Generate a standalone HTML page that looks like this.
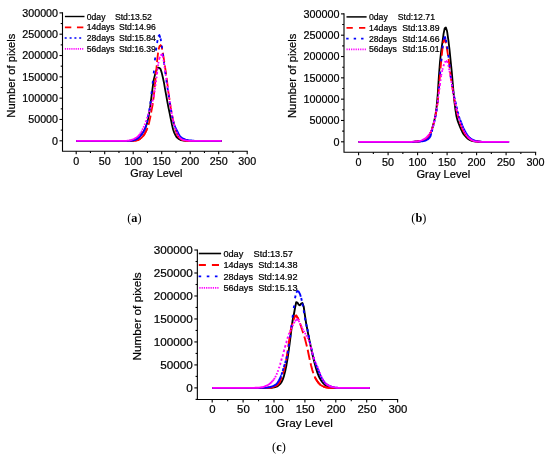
<!DOCTYPE html>
<html lang="en">
<head>
<meta charset="utf-8">
<title>Gray level histograms</title>
<style>
html,body{margin:0;padding:0;background:#fff;}
body{width:550px;height:460px;overflow:hidden;}
svg{display:block;}
.c text{stroke:#000;stroke-width:.22px;}
</style>
</head>
<body>
<svg width="550" height="460" viewBox="0 0 550 460">
<rect width="550" height="460" fill="#fff"/>
<g class="c" font-family='"Liberation Sans", Arial, sans-serif' fill="#000">
<path d="M76.2,140.8L77.3,140.8L78.5,140.8L79.6,140.8L80.8,140.8L81.9,140.8L83.0,140.8L84.2,140.8L85.3,140.8L86.5,140.8L87.6,140.8L88.7,140.8L89.9,140.8L91.0,140.8L92.2,140.8L93.3,140.8L94.4,140.8L95.6,140.8L96.7,140.8L97.9,140.8L99.0,140.8L100.1,140.8L101.3,140.8L102.4,140.8L103.6,140.8L104.7,140.8L105.8,140.8L107.0,140.8L108.1,140.8L109.3,140.8L110.4,140.8L111.5,140.8L112.7,140.8L113.8,140.8L115.0,140.8L116.1,140.8L117.2,140.8L118.4,140.8L119.5,140.8L120.7,140.8L121.8,140.8L122.9,140.8L124.1,140.8L125.2,140.8L126.4,140.8L127.5,140.8L128.6,140.8L129.8,140.7L130.9,140.6L132.1,140.5L133.2,140.4L134.3,140.0L135.5,139.4L136.6,138.7L137.8,138.0L138.9,137.0L140.0,135.9L141.2,134.6L142.3,133.1L143.5,131.4L144.6,129.4L145.7,126.9L146.9,123.8L148.0,119.2L149.2,113.2L150.3,105.8L151.4,97.0L152.6,87.9L153.7,79.9L154.9,75.1L156.0,71.4L157.1,68.8L158.3,67.6L159.4,67.8L160.6,69.2L161.7,72.6L162.8,77.3L164.0,82.9L165.1,89.3L166.3,95.9L167.4,102.1L168.5,107.9L169.7,113.6L170.8,119.1L172.0,124.9L173.1,129.5L174.2,132.6L175.4,135.1L176.5,137.0L177.7,138.1L178.8,138.9L179.9,139.6L181.1,140.1L182.2,140.3L183.4,140.5L184.5,140.7L185.6,140.8L186.8,140.8L187.9,140.8L189.1,140.8L190.2,140.8L191.3,140.8L192.5,140.8L193.6,140.8L194.8,140.8L195.9,140.8L197.0,140.8L198.2,140.8L199.3,140.8L200.5,140.8L201.6,140.8L202.7,140.8L203.9,140.8L205.0,140.8L206.2,140.8L207.3,140.8L208.4,140.8L209.6,140.8L210.7,140.8L211.9,140.8L213.0,140.8L214.1,140.8L215.3,140.8L216.4,140.8L217.6,140.8L218.7,140.8L219.8,140.8L221.0,140.8L221.6,140.8" fill="none" stroke="#000000" stroke-width="1.8" stroke-linejoin="round"/>
<path d="M76.2,140.8L77.3,140.8L78.5,140.8L79.6,140.8L80.8,140.8L81.9,140.8L83.0,140.8L84.2,140.8L85.3,140.8L86.5,140.8L87.6,140.8L88.7,140.8L89.9,140.8L91.0,140.8L92.2,140.8L93.3,140.8L94.4,140.8L95.6,140.8L96.7,140.8L97.9,140.8L99.0,140.8L100.1,140.8L101.3,140.8L102.4,140.8L103.6,140.8L104.7,140.8L105.8,140.8L107.0,140.8L108.1,140.8L109.3,140.8L110.4,140.8L111.5,140.8L112.7,140.8L113.8,140.8L115.0,140.8L116.1,140.8L117.2,140.8L118.4,140.8L119.5,140.8L120.7,140.8L121.8,140.8L122.9,140.8L124.1,140.8L125.2,140.8L126.4,140.8L127.5,140.8L128.6,140.8L129.8,140.8L130.9,140.8L132.1,140.8L133.2,140.8L134.3,140.7L135.5,140.6L136.6,140.3L137.8,140.1L138.9,139.6L140.0,138.9L141.2,138.0L142.3,136.9L143.5,135.6L144.6,133.9L145.7,131.8L146.9,129.4L148.0,126.2L149.2,122.4L150.3,117.4L151.4,111.1L152.6,105.0L153.7,96.9L154.9,84.9L156.0,72.9L157.1,61.1L158.3,50.8L159.4,46.5L160.6,45.3L161.7,46.7L162.8,52.6L164.0,59.8L165.1,67.5L166.3,75.2L167.4,83.8L168.5,92.8L169.7,100.7L170.8,108.0L172.0,114.4L173.1,120.2L174.2,124.9L175.4,129.1L176.5,132.8L177.7,135.7L178.8,137.3L179.9,138.4L181.1,139.2L182.2,139.8L183.4,140.1L184.5,140.3L185.6,140.5L186.8,140.7L187.9,140.8L189.1,140.8L190.2,140.8L191.3,140.8L192.5,140.8L193.6,140.8L194.8,140.8L195.9,140.8L197.0,140.8L198.2,140.8L199.3,140.8L200.5,140.8L201.6,140.8L202.7,140.8L203.9,140.8L205.0,140.8L206.2,140.8L207.3,140.8L208.4,140.8L209.6,140.8L210.7,140.8L211.9,140.8L213.0,140.8L214.1,140.8L215.3,140.8L216.4,140.8L217.6,140.8L218.7,140.8L219.8,140.8L221.0,140.8L221.6,140.8" fill="none" stroke="#ff0000" stroke-width="1.8" stroke-linejoin="round" stroke-dasharray="9.5 3.2" stroke-dashoffset="8.03"/>
<path d="M76.2,140.8L77.3,140.8L78.5,140.8L79.6,140.8L80.8,140.8L81.9,140.8L83.0,140.8L84.2,140.8L85.3,140.8L86.5,140.8L87.6,140.8L88.7,140.8L89.9,140.8L91.0,140.8L92.2,140.8L93.3,140.8L94.4,140.8L95.6,140.8L96.7,140.8L97.9,140.8L99.0,140.8L100.1,140.8L101.3,140.8L102.4,140.8L103.6,140.8L104.7,140.8L105.8,140.8L107.0,140.8L108.1,140.8L109.3,140.8L110.4,140.8L111.5,140.8L112.7,140.8L113.8,140.8L115.0,140.8L116.1,140.8L117.2,140.8L118.4,140.8L119.5,140.8L120.7,140.8L121.8,140.8L122.9,140.8L124.1,140.8L125.2,140.8L126.4,140.8L127.5,140.8L128.6,140.8L129.8,140.8L130.9,140.8L132.1,140.8L133.2,140.8L134.3,140.7L135.5,140.6L136.6,140.3L137.8,140.1L138.9,139.6L140.0,138.9L141.2,138.0L142.3,136.9L143.5,135.6L144.6,133.9L145.7,131.8L146.9,129.4M159.4,46.5L160.6,45.3L161.7,46.7M177.7,135.7L178.8,137.3L179.9,138.4L181.1,139.2L182.2,139.8L183.4,140.1L184.5,140.3L185.6,140.5L186.8,140.7L187.9,140.8L189.1,140.8L190.2,140.8L191.3,140.8L192.5,140.8L193.6,140.8L194.8,140.8L195.9,140.8L197.0,140.8L198.2,140.8L199.3,140.8L200.5,140.8L201.6,140.8L202.7,140.8L203.9,140.8L205.0,140.8L206.2,140.8L207.3,140.8L208.4,140.8L209.6,140.8L210.7,140.8L211.9,140.8L213.0,140.8L214.1,140.8L215.3,140.8L216.4,140.8L217.6,140.8L218.7,140.8L219.8,140.8L221.0,140.8L221.6,140.8" fill="none" stroke="#ff0000" stroke-width="1.8" stroke-linejoin="round"/>
<path d="M76.2,140.8L77.3,140.8L78.5,140.8L79.6,140.8L80.8,140.8L81.9,140.8L83.0,140.8L84.2,140.8L85.3,140.8L86.5,140.8L87.6,140.8L88.7,140.8L89.9,140.8L91.0,140.8L92.2,140.8L93.3,140.8L94.4,140.8L95.6,140.8L96.7,140.8L97.9,140.8L99.0,140.8L100.1,140.8L101.3,140.8L102.4,140.8L103.6,140.8L104.7,140.8L105.8,140.8L107.0,140.8L108.1,140.8L109.3,140.8L110.4,140.8L111.5,140.8L112.7,140.8L113.8,140.8L115.0,140.8L116.1,140.8L117.2,140.8L118.4,140.8L119.5,140.8L120.7,140.8L121.8,140.8L122.9,140.8L124.1,140.8L125.2,140.8L126.4,140.8L127.5,140.8L128.6,140.8L129.8,140.8L130.9,140.8L132.1,140.6L133.2,140.5L134.3,140.2L135.5,139.8L136.6,139.2L137.8,138.5L138.9,137.6L140.0,136.5L141.2,135.1L142.3,133.6L143.5,131.8L144.6,129.7L145.7,127.1M145.7,127.0L146.5,124.3M146.9,122.9L147.4,120.1M148.0,116.9L148.5,114.1M149.2,110.8L149.6,108.1M150.3,103.8L150.6,101.0M151.4,94.0L151.7,91.3M152.6,83.7L152.9,80.9M153.7,73.4L154.0,70.6M154.9,60.3L155.2,57.5M156.0,50.5L156.4,47.7M157.1,43.0L157.6,40.2M158.3,36.6L159.4,35.0L160.3,37.7M160.6,38.5L161.0,41.2M161.7,45.6L162.1,48.3M162.8,53.6L163.2,56.4M164.0,62.0L164.3,64.8M165.1,71.2L165.5,74.0M166.3,80.2L166.7,82.9M167.4,87.5L167.9,90.2M168.5,94.4L169.0,97.2M169.7,101.9L170.1,104.6M170.8,109.2L171.3,112.0M172.0,115.3L172.5,118.1M173.1,120.7L173.9,123.4M174.2,124.7L175.3,127.3M175.4,127.5L176.5,129.7L177.7,132.0L178.8,134.2L179.9,136.0L181.1,137.3L182.2,138.1L183.4,138.7L184.5,139.1L185.6,139.5L186.8,139.8L187.9,140.0L189.1,140.3L190.2,140.4L191.3,140.5L192.5,140.6L193.6,140.7L194.8,140.8L195.9,140.8L197.0,140.8L198.2,140.8L199.3,140.8L200.5,140.8L201.6,140.8L202.7,140.8L203.9,140.8L205.0,140.8L206.2,140.8L207.3,140.8L208.4,140.8L209.6,140.8L210.7,140.8L211.9,140.8L213.0,140.8L214.1,140.8L215.3,140.8L216.4,140.8L217.6,140.8L218.7,140.8L219.8,140.8L221.0,140.8L221.6,140.8" fill="none" stroke="#0000ff" stroke-width="1.8" stroke-linejoin="round"/>
<path d="M76.2,140.8L77.3,140.8L78.5,140.8L79.6,140.8L80.8,140.8L81.9,140.8L83.0,140.8L84.2,140.8L85.3,140.8L86.5,140.8L87.6,140.8L88.7,140.8L89.9,140.8L91.0,140.8L92.2,140.8L93.3,140.8L94.4,140.8L95.6,140.8L96.7,140.8L97.9,140.8L99.0,140.8L100.1,140.8L101.3,140.8L102.4,140.8L103.6,140.8L104.7,140.8L105.8,140.8L107.0,140.8L108.1,140.8L109.3,140.8L110.4,140.8L111.5,140.8L112.7,140.8L113.8,140.8L115.0,140.8L116.1,140.8L117.2,140.8L118.4,140.8L119.5,140.8L120.7,140.8L121.8,140.8L122.9,140.8L124.1,140.8L125.2,140.8L126.4,140.8L127.5,140.7L128.6,140.6L129.8,140.5L130.9,140.2L132.1,139.7L133.2,139.2L134.3,138.7L135.5,138.1L136.6,137.4L137.8,136.5L138.9,135.4M138.9,135.4L139.8,134.1M140.0,133.8L140.9,132.4M141.2,132.0L142.0,130.6M142.3,129.9L143.0,128.5M143.5,127.7L144.1,126.2M144.6,125.0L145.2,123.5M145.7,122.0L146.2,120.5M146.9,118.5L147.4,117.0M148.0,115.1L148.6,113.6M149.2,112.1L149.7,110.5M150.3,108.8L150.8,107.3M151.4,105.3L151.4,105.1L151.9,103.6M152.4,101.5L152.6,100.9L152.9,99.4M153.4,97.3L153.7,95.9L154.0,94.4M154.4,92.3L154.6,90.7M154.9,89.5L155.1,87.9M155.4,85.8L155.6,84.2M156.0,82.2L156.0,81.9L156.2,80.3M156.5,78.2L156.7,76.6M157.0,74.5L157.1,73.3L157.3,71.7M157.6,69.7L157.7,68.1M158.0,66.0L158.2,64.4M158.3,63.5L158.6,61.9M159.1,59.8L159.4,58.3M159.4,58.3L160.0,56.8M160.6,55.6L161.7,54.5L162.6,55.8M162.8,56.1L163.1,57.7M163.5,59.7L163.7,61.3M164.0,62.9L164.2,64.5M164.5,66.5L164.7,68.1M165.0,70.2L165.1,70.7L165.3,72.3M165.6,74.4L165.9,75.9M166.2,78.0L166.3,78.7L166.5,80.2M166.8,82.3L167.0,83.9M167.4,86.0L167.4,86.3L167.6,87.8M168.0,89.9L168.2,91.5M168.5,93.6L168.5,93.7L168.8,95.3M169.1,97.4L169.3,99.0M169.7,101.0L169.7,101.2L169.9,102.8M170.2,104.9L170.5,106.5M170.8,108.5L170.8,108.6L171.1,110.1M171.5,112.2L171.8,113.8M172.0,114.9L172.3,116.4M172.7,118.5L173.0,120.1M173.1,120.5L173.5,122.0M174.0,124.0L174.2,124.8L174.7,126.3M175.3,128.3L175.4,128.5L175.9,130.0M176.5,131.8L177.1,133.3M177.7,134.6L178.4,136.1M178.8,136.8L179.9,137.9M179.9,138.0L181.1,138.8L182.2,139.5L183.4,139.9L184.5,140.2L185.6,140.4L186.8,140.6L187.9,140.7L189.1,140.8L190.2,140.8L191.3,140.8L192.5,140.8L193.6,140.8L194.8,140.8L195.9,140.8L197.0,140.8L198.2,140.8L199.3,140.8L200.5,140.8L201.6,140.8L202.7,140.8L203.9,140.8L205.0,140.8L206.2,140.8L207.3,140.8L208.4,140.8L209.6,140.8L210.7,140.8L211.9,140.8L213.0,140.8L214.1,140.8L215.3,140.8L216.4,140.8L217.6,140.8L218.7,140.8L219.8,140.8L221.0,140.8L221.6,140.8" fill="none" stroke="#ff00ff" stroke-width="1.8" stroke-linejoin="round"/>
<g stroke="#000" stroke-width="1.1" fill="none" stroke-linecap="butt">
<path d="M62.50,12.33 V151.30 H247.75"/>
<path d="M62.50,140.80 h-3.0"/>
<path d="M62.50,119.48 h-3.0"/>
<path d="M62.50,98.16 h-3.0"/>
<path d="M62.50,76.84 h-3.0"/>
<path d="M62.50,55.52 h-3.0"/>
<path d="M62.50,34.20 h-3.0"/>
<path d="M62.50,12.88 h-3.0"/>
<path d="M62.50,130.14 h-1.8"/>
<path d="M62.50,108.82 h-1.8"/>
<path d="M62.50,87.50 h-1.8"/>
<path d="M62.50,66.18 h-1.8"/>
<path d="M62.50,44.86 h-1.8"/>
<path d="M62.50,23.54 h-1.8"/>
<path d="M76.20,151.30 v3.0"/>
<path d="M104.70,151.30 v3.0"/>
<path d="M133.20,151.30 v3.0"/>
<path d="M161.70,151.30 v3.0"/>
<path d="M190.20,151.30 v3.0"/>
<path d="M218.70,151.30 v3.0"/>
<path d="M247.20,151.30 v3.0"/>
<path d="M90.45,151.30 v1.8"/>
<path d="M118.95,151.30 v1.8"/>
<path d="M147.45,151.30 v1.8"/>
<path d="M175.95,151.30 v1.8"/>
<path d="M204.45,151.30 v1.8"/>
<path d="M232.95,151.30 v1.8"/>
</g>
<text x="58.00" y="144.63" font-size="10.7" text-anchor="end">0</text>
<text x="58.00" y="123.31" font-size="10.7" text-anchor="end">50000</text>
<text x="58.00" y="101.99" font-size="10.7" text-anchor="end">100000</text>
<text x="58.00" y="80.67" font-size="10.7" text-anchor="end">150000</text>
<text x="58.00" y="59.35" font-size="10.7" text-anchor="end">200000</text>
<text x="58.00" y="38.03" font-size="10.7" text-anchor="end">250000</text>
<text x="58.00" y="16.71" font-size="10.7" text-anchor="end">300000</text>
<text x="76.20" y="164.60" font-size="10.7" text-anchor="middle">0</text>
<text x="104.70" y="164.60" font-size="10.7" text-anchor="middle">50</text>
<text x="133.20" y="164.60" font-size="10.7" text-anchor="middle">100</text>
<text x="161.70" y="164.60" font-size="10.7" text-anchor="middle">150</text>
<text x="190.20" y="164.60" font-size="10.7" text-anchor="middle">200</text>
<text x="218.70" y="164.60" font-size="10.7" text-anchor="middle">250</text>
<text x="247.20" y="164.60" font-size="10.7" text-anchor="middle">300</text>
<text x="156.40" y="176.60" font-size="10.8" text-anchor="middle">Gray Level</text>
<text transform="translate(14.60,75.70) rotate(-90)" font-size="11.2" text-anchor="middle">Number of pixels</text>
<path d="M64.90,16.50 H84.50" stroke="#000000" stroke-width="1.4" fill="none"/>
<text x="86.80" y="19.60" font-size="8.6">0day</text>
<text x="115.00" y="19.60" font-size="8.6">Std:13.52</text>
<path d="M64.90,27.30 H84.50" stroke="#ff0000" stroke-width="1.7" fill="none" stroke-dasharray="6.4 5.65"/>
<text x="86.80" y="30.40" font-size="8.6">14days</text>
<text x="119.00" y="30.40" font-size="8.6">Std:14.96</text>
<path d="M64.70,38.00h2.0M69.60,38.00h2.0M74.40,38.00h2.0M79.20,38.00h2.0" stroke="#0000ff" stroke-width="1.7" fill="none"/>
<text x="86.80" y="41.10" font-size="8.6">28days</text>
<text x="119.00" y="41.10" font-size="8.6">Std:15.84</text>
<path d="M64.90,48.90h1.15M67.05,48.90h1.15M69.20,48.90h1.15M71.35,48.90h1.15M73.50,48.90h1.15M75.65,48.90h1.15M77.80,48.90h1.15M79.95,48.90h1.15M82.10,48.90h1.15" stroke="#ff00ff" stroke-width="1.5999999999999999" fill="none"/>
<text x="86.80" y="52.00" font-size="8.6">56days</text>
<text x="119.00" y="52.00" font-size="8.6">Std:16.39</text>
</g>
<text x="134.40" y="222.40" font-family='"Liberation Serif", "Times New Roman", serif' font-size="12.3" text-anchor="middle" fill="#000">(<tspan font-weight="bold">a</tspan>)</text>
<g class="c" font-family='"Liberation Sans", Arial, sans-serif' fill="#000">
<path d="M358.6,141.8L359.8,141.8L361.0,141.8L362.1,141.8L363.3,141.8L364.5,141.8L365.7,141.8L366.9,141.8L368.0,141.8L369.2,141.8L370.4,141.8L371.6,141.8L372.8,141.8L373.9,141.8L375.1,141.8L376.3,141.8L377.5,141.8L378.7,141.8L379.8,141.8L381.0,141.8L382.2,141.8L383.4,141.8L384.6,141.8L385.7,141.8L386.9,141.8L388.1,141.8L389.3,141.8L390.5,141.8L391.6,141.8L392.8,141.8L394.0,141.8L395.2,141.8L396.4,141.8L397.5,141.8L398.7,141.8L399.9,141.8L401.1,141.8L402.3,141.8L403.4,141.8L404.6,141.8L405.8,141.8L407.0,141.8L408.2,141.8L409.3,141.8L410.5,141.8L411.7,141.8L412.9,141.8L414.1,141.7L415.2,141.7L416.4,141.6L417.6,141.4L418.8,141.3L420.0,141.2L421.1,141.0L422.3,140.7L423.5,140.2L424.7,139.6L425.9,138.9L427.0,138.1L428.2,136.7L429.4,135.0L430.6,132.8L431.8,129.7L432.9,125.7L434.1,121.4L435.3,115.9L436.5,107.7L437.7,94.9L438.8,77.2L440.0,61.5L441.2,50.9L442.4,42.4L443.6,33.6L444.7,28.2L445.9,27.4L447.1,31.3L448.3,39.6L449.5,49.4L450.6,60.4L451.8,72.2L453.0,86.0L454.2,99.8L455.4,109.6L456.5,116.6L457.7,120.9L458.9,124.2L460.1,127.1L461.3,129.8L462.4,132.2L463.6,134.2L464.8,135.7L466.0,137.0L467.2,138.2L468.3,139.1L469.5,139.8L470.7,140.3L471.9,140.8L473.1,141.2L474.2,141.4L475.4,141.6L476.6,141.7L477.8,141.8L479.0,141.8L480.1,141.8L481.3,141.8L482.5,141.8L483.7,141.8L484.9,141.8L486.0,141.8L487.2,141.8L488.4,141.8L489.6,141.8L490.8,141.8L491.9,141.8L493.1,141.8L494.3,141.8L495.5,141.8L496.7,141.8L497.8,141.8L499.0,141.8L500.2,141.8L501.4,141.8L502.6,141.8L503.7,141.8L504.9,141.8L506.1,141.8L507.3,141.8L508.5,141.8L509.1,141.8" fill="none" stroke="#000000" stroke-width="1.8" stroke-linejoin="round"/>
<path d="M358.6,141.8L359.8,141.8L361.0,141.8L362.1,141.8L363.3,141.8L364.5,141.8L365.7,141.8L366.9,141.8L368.0,141.8L369.2,141.8L370.4,141.8L371.6,141.8L372.8,141.8L373.9,141.8L375.1,141.8L376.3,141.8L377.5,141.8L378.7,141.8L379.8,141.8L381.0,141.8L382.2,141.8L383.4,141.8L384.6,141.8L385.7,141.8L386.9,141.8L388.1,141.8L389.3,141.8L390.5,141.8L391.6,141.8L392.8,141.8L394.0,141.8L395.2,141.8L396.4,141.8L397.5,141.8L398.7,141.8L399.9,141.8L401.1,141.8L402.3,141.8L403.4,141.8L404.6,141.8L405.8,141.8L407.0,141.8L408.2,141.8L409.3,141.8L410.5,141.8L411.7,141.8L412.9,141.8L414.1,141.8L415.2,141.7L416.4,141.6L417.6,141.5L418.8,141.4L420.0,141.3L421.1,141.1L422.3,140.8L423.5,140.3L424.7,139.7L425.9,138.9L427.0,138.0L428.2,136.7L429.4,135.0L430.6,132.8L431.8,130.2L432.9,126.5L434.1,122.1L435.3,116.7L436.5,110.3L437.7,102.4L438.8,89.3L440.0,74.4L441.2,61.4L442.4,49.3L443.6,40.9L444.7,38.7L445.9,42.9L447.1,49.5L448.3,57.1L449.5,65.8L450.6,75.9L451.8,84.2L453.0,91.4L454.2,98.1L455.4,104.2L456.5,109.9L457.7,114.8L458.9,119.1L460.1,122.8L461.3,126.0L462.4,129.0L463.6,131.5L464.8,133.4L466.0,135.1L467.2,136.5L468.3,137.7L469.5,138.6L470.7,139.5L471.9,140.2L473.1,140.7L474.2,141.0L475.4,141.2L476.6,141.4L477.8,141.5L479.0,141.6L480.1,141.7L481.3,141.8L482.5,141.8L483.7,141.8L484.9,141.8L486.0,141.8L487.2,141.8L488.4,141.8L489.6,141.8L490.8,141.8L491.9,141.8L493.1,141.8L494.3,141.8L495.5,141.8L496.7,141.8L497.8,141.8L499.0,141.8L500.2,141.8L501.4,141.8L502.6,141.8L503.7,141.8L504.9,141.8L506.1,141.8L507.3,141.8L508.5,141.8L509.1,141.8" fill="none" stroke="#ff0000" stroke-width="1.8" stroke-linejoin="round" stroke-dasharray="9.5 3.2" stroke-dashoffset="11.34"/>
<path d="M358.6,141.8L359.8,141.8L361.0,141.8L362.1,141.8L363.3,141.8L364.5,141.8L365.7,141.8L366.9,141.8L368.0,141.8L369.2,141.8L370.4,141.8L371.6,141.8L372.8,141.8L373.9,141.8L375.1,141.8L376.3,141.8L377.5,141.8L378.7,141.8L379.8,141.8L381.0,141.8L382.2,141.8L383.4,141.8L384.6,141.8L385.7,141.8L386.9,141.8L388.1,141.8L389.3,141.8L390.5,141.8L391.6,141.8L392.8,141.8L394.0,141.8L395.2,141.8L396.4,141.8L397.5,141.8L398.7,141.8L399.9,141.8L401.1,141.8L402.3,141.8L403.4,141.8L404.6,141.8L405.8,141.8L407.0,141.8L408.2,141.8L409.3,141.8L410.5,141.8L411.7,141.8L412.9,141.8L414.1,141.8L415.2,141.7L416.4,141.6L417.6,141.5L418.8,141.4L420.0,141.3L421.1,141.1L422.3,140.8L423.5,140.3L424.7,139.7L425.9,138.9L427.0,138.0L428.2,136.7L429.4,135.0L430.6,132.8L431.8,130.2M443.6,40.9L444.7,38.7M462.4,129.0L463.6,131.5L464.8,133.4L466.0,135.1L467.2,136.5L468.3,137.7L469.5,138.6L470.7,139.5L471.9,140.2L473.1,140.7L474.2,141.0L475.4,141.2L476.6,141.4L477.8,141.5L479.0,141.6L480.1,141.7L481.3,141.8L482.5,141.8L483.7,141.8L484.9,141.8L486.0,141.8L487.2,141.8L488.4,141.8L489.6,141.8L490.8,141.8L491.9,141.8L493.1,141.8L494.3,141.8L495.5,141.8L496.7,141.8L497.8,141.8L499.0,141.8L500.2,141.8L501.4,141.8L502.6,141.8L503.7,141.8L504.9,141.8L506.1,141.8L507.3,141.8L508.5,141.8L509.0,141.8" fill="none" stroke="#ff0000" stroke-width="1.8" stroke-linejoin="round"/>
<path d="M358.6,141.8L359.8,141.8L361.0,141.8L362.1,141.8L363.3,141.8L364.5,141.8L365.7,141.8L366.9,141.8L368.0,141.8L369.2,141.8L370.4,141.8L371.6,141.8L372.8,141.8L373.9,141.8L375.1,141.8L376.3,141.8L377.5,141.8L378.7,141.8L379.8,141.8L381.0,141.8L382.2,141.8L383.4,141.8L384.6,141.8L385.7,141.8L386.9,141.8L388.1,141.8L389.3,141.8L390.5,141.8L391.6,141.8L392.8,141.8L394.0,141.8L395.2,141.8L396.4,141.8L397.5,141.8L398.7,141.8L399.9,141.8L401.1,141.8L402.3,141.8L403.4,141.8L404.6,141.8L405.8,141.8L407.0,141.8L408.2,141.8L409.3,141.8L410.5,141.8L411.7,141.8L412.9,141.8L414.1,141.8L415.2,141.7L416.4,141.7L417.6,141.6L418.8,141.6L420.0,141.5L421.1,141.4L422.3,141.4L423.5,141.2L424.7,140.9L425.9,140.4L427.0,139.8L428.2,139.1L429.4,137.9L430.6,136.0L431.3,133.3M431.8,131.8L432.5,129.1M432.9,127.2L433.7,124.5M434.1,122.7L434.8,120.0M435.3,117.7L435.8,114.9M436.5,111.3L436.9,108.5M437.7,102.6L437.9,99.8M438.8,89.2L439.1,86.4M440.0,74.5L440.3,71.7M441.2,61.4L441.5,58.6M442.4,48.3L442.8,45.6M443.6,39.7L444.5,37.1M444.7,36.3L445.7,38.9M445.9,39.7L446.4,42.4M447.1,46.5L447.5,49.2M448.3,54.9L448.6,57.7M449.5,64.4L449.7,67.2M450.6,75.8L451.0,78.6M451.8,84.1L452.3,86.8M453.0,90.7L453.6,93.4M454.2,96.4L454.8,99.1M455.4,101.5L456.0,104.2M456.5,106.6L457.2,109.3M457.7,111.6L458.4,114.3M458.9,116.4L459.8,119.0M460.1,119.7L461.2,122.3M461.3,122.6L462.3,125.2M462.4,125.5L463.5,128.0M463.6,128.3L464.8,130.7L466.0,132.9L467.2,134.8L468.3,136.4L469.5,137.5L470.7,138.5L471.9,139.3L473.1,139.9L474.2,140.3L475.4,140.8L476.6,141.1L477.8,141.4L479.0,141.5L480.1,141.7L481.3,141.7L482.5,141.8L483.7,141.8L484.9,141.8L486.0,141.8L487.2,141.8L488.4,141.8L489.6,141.8L490.8,141.8L491.9,141.8L493.1,141.8L494.3,141.8L495.5,141.8L496.7,141.8L497.8,141.8L499.0,141.8L500.2,141.8L501.4,141.8L502.6,141.8L503.7,141.8L504.9,141.8L506.1,141.8L507.3,141.8L508.5,141.8L509.1,141.8" fill="none" stroke="#0000ff" stroke-width="1.8" stroke-linejoin="round"/>
<path d="M358.6,141.8L359.8,141.8L361.0,141.8L362.1,141.8L363.3,141.8L364.5,141.8L365.7,141.8L366.9,141.8L368.0,141.8L369.2,141.8L370.4,141.8L371.6,141.8L372.8,141.8L373.9,141.8L375.1,141.8L376.3,141.8L377.5,141.8L378.7,141.8L379.8,141.8L381.0,141.8L382.2,141.8L383.4,141.8L384.6,141.8L385.7,141.8L386.9,141.8L388.1,141.8L389.3,141.8L390.5,141.8L391.6,141.8L392.8,141.8L394.0,141.8L395.2,141.8L396.4,141.8L397.5,141.8L398.7,141.8L399.9,141.8L401.1,141.8L402.3,141.8L403.4,141.8L404.6,141.8L405.8,141.8L407.0,141.8L408.2,141.8L409.3,141.8L410.5,141.8L411.7,141.8L412.9,141.7L414.1,141.7L415.2,141.6L416.4,141.5L417.6,141.3L418.8,141.1L420.0,140.8L421.1,140.5L422.3,140.0L423.5,139.4L424.7,138.7L425.9,137.9L427.0,136.9L428.1,135.7M428.2,135.5L429.2,134.3M429.4,133.9L430.2,132.6M430.6,132.0L431.3,130.6M431.8,129.8L432.3,128.3M432.9,126.7L433.4,125.1M433.9,123.1L434.1,122.3L434.4,120.7M434.8,118.6L435.1,117.1M435.3,115.9L435.6,114.3M435.9,112.2L436.2,110.6M436.5,109.2L436.7,107.6M437.1,105.5L437.3,103.9M437.6,101.9L437.7,101.6L437.9,100.0M438.2,98.0L438.4,96.4M438.7,94.3L438.8,93.3L439.1,91.7M439.3,89.6L439.6,88.0M439.8,86.0L440.0,84.6L440.2,83.0M440.5,80.9L440.7,79.3M441.0,77.2L441.2,75.6M441.2,75.4L441.5,73.8M442.0,71.8L442.3,70.2M442.4,69.8L442.8,68.3M443.4,66.2L443.6,65.7L444.1,64.2M444.7,62.6L445.6,61.3M445.9,60.8L447.1,61.5L447.6,63.1M448.3,65.0L448.6,66.6M449.0,68.6L449.3,70.2M449.5,70.8L449.7,72.3M450.1,74.4L450.4,76.0M450.6,77.6L450.9,79.1M451.3,81.2L451.5,82.8M451.8,84.5L452.1,86.1M452.4,88.1L452.7,89.7M453.0,91.5L453.3,93.1M453.7,95.1L453.9,96.7M454.2,98.1L454.5,99.7M454.9,101.7L455.2,103.3M455.4,104.2L455.7,105.7M456.2,107.8L456.5,109.3M456.5,109.5L456.9,111.1M457.4,113.1L457.7,114.2L458.1,115.8M458.7,117.8L458.9,118.5L459.4,120.1M460.0,122.1L460.1,122.3L460.6,123.8M461.3,125.4L461.9,126.9M462.4,128.1L463.2,129.6M463.6,130.5L464.4,131.9M464.8,132.5L465.6,133.9M466.0,134.4L466.9,135.7M467.2,136.1L468.2,137.3M468.3,137.5L469.5,138.5L470.7,139.4L471.9,140.1L473.1,140.7L474.2,141.1L475.4,141.3L476.6,141.5L477.8,141.6L479.0,141.7L480.1,141.8L481.3,141.8L482.5,141.8L483.7,141.8L484.9,141.8L486.0,141.8L487.2,141.8L488.4,141.8L489.6,141.8L490.8,141.8L491.9,141.8L493.1,141.8L494.3,141.8L495.5,141.8L496.7,141.8L497.8,141.8L499.0,141.8L500.2,141.8L501.4,141.8L502.6,141.8L503.7,141.8L504.9,141.8L506.1,141.8L507.3,141.8L508.5,141.8L509.1,141.8" fill="none" stroke="#ff00ff" stroke-width="1.8" stroke-linejoin="round"/>
<g stroke="#000" stroke-width="1.1" fill="none" stroke-linecap="butt">
<path d="M344.00,13.33 V152.30 H536.15"/>
<path d="M344.00,141.80 h-3.0"/>
<path d="M344.00,120.48 h-3.0"/>
<path d="M344.00,99.16 h-3.0"/>
<path d="M344.00,77.84 h-3.0"/>
<path d="M344.00,56.52 h-3.0"/>
<path d="M344.00,35.20 h-3.0"/>
<path d="M344.00,13.88 h-3.0"/>
<path d="M344.00,131.14 h-1.8"/>
<path d="M344.00,109.82 h-1.8"/>
<path d="M344.00,88.50 h-1.8"/>
<path d="M344.00,67.18 h-1.8"/>
<path d="M344.00,45.86 h-1.8"/>
<path d="M344.00,24.54 h-1.8"/>
<path d="M358.60,152.30 v3.0"/>
<path d="M388.10,152.30 v3.0"/>
<path d="M417.60,152.30 v3.0"/>
<path d="M447.10,152.30 v3.0"/>
<path d="M476.60,152.30 v3.0"/>
<path d="M506.10,152.30 v3.0"/>
<path d="M535.60,152.30 v3.0"/>
<path d="M373.35,152.30 v1.8"/>
<path d="M402.85,152.30 v1.8"/>
<path d="M432.35,152.30 v1.8"/>
<path d="M461.85,152.30 v1.8"/>
<path d="M491.35,152.30 v1.8"/>
<path d="M520.85,152.30 v1.8"/>
</g>
<text x="339.50" y="145.67" font-size="10.8" text-anchor="end">0</text>
<text x="339.50" y="124.35" font-size="10.8" text-anchor="end">50000</text>
<text x="339.50" y="103.03" font-size="10.8" text-anchor="end">100000</text>
<text x="339.50" y="81.71" font-size="10.8" text-anchor="end">150000</text>
<text x="339.50" y="60.39" font-size="10.8" text-anchor="end">200000</text>
<text x="339.50" y="39.07" font-size="10.8" text-anchor="end">250000</text>
<text x="339.50" y="17.75" font-size="10.8" text-anchor="end">300000</text>
<text x="358.60" y="165.60" font-size="10.8" text-anchor="middle">0</text>
<text x="388.10" y="165.60" font-size="10.8" text-anchor="middle">50</text>
<text x="417.60" y="165.60" font-size="10.8" text-anchor="middle">100</text>
<text x="447.10" y="165.60" font-size="10.8" text-anchor="middle">150</text>
<text x="476.60" y="165.60" font-size="10.8" text-anchor="middle">200</text>
<text x="506.10" y="165.60" font-size="10.8" text-anchor="middle">250</text>
<text x="535.60" y="165.60" font-size="10.8" text-anchor="middle">300</text>
<text x="443.30" y="178.40" font-size="11.1" text-anchor="middle">Gray Level</text>
<text transform="translate(295.50,75.80) rotate(-90)" font-size="11.25" text-anchor="middle">Number of pixels</text>
<path d="M346.50,16.90 H366.60" stroke="#000000" stroke-width="1.5" fill="none"/>
<text x="368.90" y="20.00" font-size="8.7">0day</text>
<text x="397.80" y="20.00" font-size="8.7">Std:12.71</text>
<path d="M346.50,27.80 H366.60" stroke="#ff0000" stroke-width="1.8" fill="none" stroke-dasharray="6.3 6.2"/>
<text x="368.90" y="30.90" font-size="8.7">14days</text>
<text x="402.30" y="30.90" font-size="8.7">Std:13.89</text>
<path d="M346.20,38.60h2.4M353.70,38.60h2.4M361.10,38.60h2.4" stroke="#0000ff" stroke-width="1.8" fill="none"/>
<text x="368.90" y="41.70" font-size="8.7">28days</text>
<text x="402.30" y="41.70" font-size="8.7">Std:14.66</text>
<path d="M346.50,49.30h1.2M348.78,49.30h1.2M351.06,49.30h1.2M353.34,49.30h1.2M355.62,49.30h1.2M357.90,49.30h1.2M360.18,49.30h1.2M362.46,49.30h1.2M364.74,49.30h1.2" stroke="#ff00ff" stroke-width="1.7" fill="none"/>
<text x="368.90" y="52.40" font-size="8.7">56days</text>
<text x="402.30" y="52.40" font-size="8.7">Std:15.01</text>
</g>
<text x="418.80" y="222.40" font-family='"Liberation Serif", "Times New Roman", serif' font-size="12.3" text-anchor="middle" fill="#000">(<tspan font-weight="bold">b</tspan>)</text>
<g class="c" font-family='"Liberation Sans", Arial, sans-serif' fill="#000">
<path d="M212.2,387.9L213.4,387.9L214.7,387.9L215.9,387.9L217.1,387.9L218.4,387.9L219.6,387.9L220.9,387.9L222.1,387.9L223.3,387.9L224.6,387.9L225.8,387.9L227.0,387.9L228.3,387.9L229.5,387.9L230.7,387.9L232.0,387.9L233.2,387.9L234.4,387.9L235.7,387.9L236.9,387.9L238.2,387.9L239.4,387.9L240.6,387.9L241.9,387.9L243.1,387.9L244.3,387.9L245.6,387.9L246.8,387.9L248.0,387.9L249.3,387.9L250.5,387.9L251.8,387.9L253.0,387.9L254.2,387.9L255.5,387.9L256.7,387.9L257.9,387.9L259.2,387.9L260.4,387.9L261.6,387.9L262.9,387.9L264.1,387.9L265.3,387.9L266.6,387.9L267.8,387.9L269.1,387.9L270.3,387.8L271.5,387.7L272.8,387.5L274.0,387.4L275.2,387.1L276.5,386.7L277.7,386.1L278.9,385.1L280.2,383.9L281.4,382.3L282.7,379.6L283.9,376.1L285.1,371.5L286.4,365.2L287.6,358.2L288.8,349.8L290.1,339.8L291.3,330.1L292.5,321.3L293.8,314.7L295.0,308.2L296.2,302.3L297.5,302.6L298.7,304.7L300.0,305.3L301.2,303.6L302.4,303.0L303.7,306.6L304.9,315.1L306.1,323.1L307.4,329.9L308.6,336.2L309.8,342.3L311.1,348.1L312.3,353.7L313.6,358.9L314.8,363.7L316.0,368.3L317.3,372.4L318.5,375.5L319.7,378.1L321.0,380.3L322.2,382.0L323.4,383.4L324.7,384.7L325.9,385.5L327.1,386.1L328.4,386.7L329.6,387.1L330.9,387.5L332.1,387.7L333.3,387.8L334.6,387.9L335.8,387.9L337.0,387.9L338.3,387.9L339.5,387.9L340.7,387.9L342.0,387.9L343.2,387.9L344.5,387.9L345.7,387.9L346.9,387.9L348.2,387.9L349.4,387.9L350.6,387.9L351.9,387.9L353.1,387.9L354.3,387.9L355.6,387.9L356.8,387.9L358.0,387.9L359.3,387.9L360.5,387.9L361.8,387.9L363.0,387.9L364.2,387.9L365.5,387.9L366.7,387.9L367.9,387.9L369.2,387.9L369.8,387.9" fill="none" stroke="#000000" stroke-width="1.9" stroke-linejoin="round"/>
<path d="M212.2,387.9L213.4,387.9L214.7,387.9L215.9,387.9L217.1,387.9L218.4,387.9L219.6,387.9L220.9,387.9L222.1,387.9L223.3,387.9L224.6,387.9L225.8,387.9L227.0,387.9L228.3,387.9L229.5,387.9L230.7,387.9L232.0,387.9L233.2,387.9L234.4,387.9L235.7,387.9L236.9,387.9L238.2,387.9L239.4,387.9L240.6,387.9L241.9,387.9L243.1,387.9L244.3,387.9L245.6,387.9L246.8,387.9L248.0,387.9L249.3,387.9L250.5,387.9L251.8,387.9L253.0,387.9L254.2,387.9L255.5,387.9L256.7,387.9L257.9,387.9L259.2,387.9L260.4,387.9L261.6,387.9L262.9,387.9L264.1,387.9L265.3,387.9L266.6,387.9L267.8,387.8L269.1,387.7L270.3,387.5L271.5,387.3L272.8,387.1L274.0,386.7L275.2,386.2L276.5,385.5L277.7,384.5L278.9,383.2L280.2,381.0L281.4,377.9L282.7,374.5L283.9,370.3L285.1,365.1L286.4,359.0L287.6,351.1L288.8,342.8L290.1,333.9L291.3,327.2L292.5,322.9L293.8,319.2L295.0,316.4L296.2,315.6L297.5,317.5L298.7,320.0L300.0,323.2L301.2,326.9L302.4,330.8L303.7,334.6L304.9,338.6L306.1,343.2L307.4,348.3L308.6,354.3L309.8,360.0L311.1,365.5L312.3,370.1L313.6,373.8L314.8,376.9L316.0,379.3L317.3,381.2L318.5,382.9L319.7,384.2L321.0,385.2L322.2,385.9L323.4,386.5L324.7,387.0L325.9,387.3L327.1,387.6L328.4,387.7L329.6,387.8L330.9,387.9L332.1,387.9L333.3,387.9L334.6,387.9L335.8,387.9L337.0,387.9L338.3,387.9L339.5,387.9L340.7,387.9L342.0,387.9L343.2,387.9L344.5,387.9L345.7,387.9L346.9,387.9L348.2,387.9L349.4,387.9L350.6,387.9L351.9,387.9L353.1,387.9L354.3,387.9L355.6,387.9L356.8,387.9L358.0,387.9L359.3,387.9L360.5,387.9L361.8,387.9L363.0,387.9L364.2,387.9L365.5,387.9L366.7,387.9L367.9,387.9L369.2,387.9L369.8,387.9" fill="none" stroke="#ff0000" stroke-width="1.9" stroke-linejoin="round" stroke-dasharray="10.3 3.5" stroke-dashoffset="4.61"/>
<path d="M212.2,387.9L213.4,387.9L214.7,387.9L215.9,387.9L217.1,387.9L218.4,387.9L219.6,387.9L220.9,387.9L222.1,387.9L223.3,387.9L224.6,387.9L225.8,387.9L227.0,387.9L228.3,387.9L229.5,387.9L230.7,387.9L232.0,387.9L233.2,387.9L234.4,387.9L235.7,387.9L236.9,387.9L238.2,387.9L239.4,387.9L240.6,387.9L241.9,387.9L243.1,387.9L244.3,387.9L245.6,387.9L246.8,387.9L248.0,387.9L249.3,387.9L250.5,387.9L251.8,387.9L253.0,387.9L254.2,387.9L255.5,387.9L256.7,387.9L257.9,387.9L259.2,387.9L260.4,387.9L261.6,387.9L262.9,387.9L264.1,387.9L265.3,387.9L266.6,387.9L267.8,387.8L269.1,387.7L270.3,387.5L271.5,387.3L272.8,387.1L274.0,386.7L275.2,386.2L276.5,385.5L277.7,384.5L278.9,383.2L280.2,381.0M295.0,316.4L296.2,315.6L297.5,317.5L298.7,320.0M314.8,376.9L316.0,379.3L317.3,381.2L318.5,382.9L319.7,384.2L321.0,385.2L322.2,385.9L323.4,386.5L324.7,387.0L325.9,387.3L327.1,387.6L328.4,387.7L329.6,387.8L330.9,387.9L332.1,387.9L333.3,387.9L334.6,387.9L335.8,387.9L337.0,387.9L338.3,387.9L339.5,387.9L340.7,387.9L342.0,387.9L343.2,387.9L344.5,387.9L345.7,387.9L346.9,387.9L348.2,387.9L349.4,387.9L350.6,387.9L351.9,387.9L353.1,387.9L354.3,387.9L355.6,387.9L356.8,387.9L358.0,387.9L359.3,387.9L360.5,387.9L361.8,387.9L363.0,387.9L364.2,387.9L365.5,387.9L366.7,387.9L367.9,387.9L369.2,387.9L369.8,387.9" fill="none" stroke="#ff0000" stroke-width="1.9" stroke-linejoin="round"/>
<path d="M212.2,387.9L213.4,387.9L214.7,387.9L215.9,387.9L217.1,387.9L218.4,387.9L219.6,387.9L220.9,387.9L222.1,387.9L223.3,387.9L224.6,387.9L225.8,387.9L227.0,387.9L228.3,387.9L229.5,387.9L230.7,387.9L232.0,387.9L233.2,387.9L234.4,387.9L235.7,387.9L236.9,387.9L238.2,387.9L239.4,387.9L240.6,387.9L241.9,387.9L243.1,387.9L244.3,387.9L245.6,387.9L246.8,387.9L248.0,387.9L249.3,387.9L250.5,387.9L251.8,387.9L253.0,387.9L254.2,387.9L255.5,387.9L256.7,387.9L257.9,387.9L259.2,387.9L260.4,387.9L261.6,387.9L262.9,387.9L264.1,387.8L265.3,387.7L266.6,387.6L267.8,387.5L269.1,387.3L270.3,387.0L271.5,386.6L272.8,386.2L274.0,385.7L275.2,384.9L276.5,383.9L277.7,382.5L278.9,380.5L280.2,378.0L281.2,375.4M281.4,374.9L282.3,372.3M282.7,371.0L283.5,368.3M283.9,367.0L284.7,364.3M285.1,363.1L285.9,360.4M286.4,358.9L287.0,356.1M287.6,353.7L288.1,350.9M288.8,346.6L289.2,343.9M290.1,337.6L290.4,334.8M291.3,327.6L291.6,324.8M292.5,317.6L292.9,314.8M293.8,308.2L294.1,305.5M295.0,298.2L295.6,295.5M296.2,292.7L297.5,291.0L298.7,291.6L300.0,294.1L300.8,296.8M301.2,298.0L301.8,300.7M302.4,303.5L302.9,306.3M303.7,310.4L304.1,313.1M304.9,317.6L305.4,320.3M306.1,324.0L306.8,326.7M307.4,328.9L307.9,331.6M308.6,335.1L309.1,337.8M309.8,341.7L310.4,344.4M311.1,347.6L311.8,350.3M312.3,352.5L313.1,355.2M313.6,357.0L314.3,359.7M314.8,361.1L315.7,363.8M316.0,364.7L317.1,367.3M317.3,367.8L318.4,370.4M318.5,370.8L319.6,373.3M319.7,373.7L320.8,376.3M321.0,376.6L322.2,378.9L323.4,380.8L324.7,382.5L325.9,383.8L327.1,384.7L328.4,385.4L329.6,386.0L330.9,386.5L332.1,386.9L333.3,387.1L334.6,387.4L335.8,387.6L337.0,387.7L338.3,387.9L339.5,387.9L340.7,387.9L342.0,387.9L343.2,387.9L344.5,387.9L345.7,387.9L346.9,387.9L348.2,387.9L349.4,387.9L350.6,387.9L351.9,387.9L353.1,387.9L354.3,387.9L355.6,387.9L356.8,387.9L358.0,387.9L359.3,387.9L360.5,387.9L361.8,387.9L363.0,387.9L364.2,387.9L365.5,387.9L366.7,387.9L367.9,387.9L369.2,387.9L369.8,387.9" fill="none" stroke="#0000ff" stroke-width="1.9" stroke-linejoin="round"/>
<path d="M212.2,387.9L213.4,387.9L214.7,387.9L215.9,387.9L217.1,387.9L218.4,387.9L219.6,387.9L220.9,387.9L222.1,387.9L223.3,387.9L224.6,387.9L225.8,387.9L227.0,387.9L228.3,387.9L229.5,387.9L230.7,387.9L232.0,387.9L233.2,387.9L234.4,387.9L235.7,387.9L236.9,387.9L238.2,387.9L239.4,387.9L240.6,387.9L241.9,387.9L243.1,387.9L244.3,387.9L245.6,387.9L246.8,387.9L248.0,387.9L249.3,387.9L250.5,387.9L251.8,387.9L253.0,387.9L254.2,387.9L255.5,387.8L256.7,387.8L257.9,387.7L259.2,387.6L260.4,387.4L261.6,387.2L262.9,387.0L264.1,386.7L265.3,386.2L266.6,385.6L267.8,385.0L269.1,384.2L270.3,383.3L271.5,382.2M271.5,382.1L272.6,381.0M272.8,380.8L273.8,379.5M274.0,379.2L274.8,377.9M275.2,377.3L275.9,375.8M276.5,374.7L277.1,373.2M277.7,371.8L278.2,370.3M278.9,368.3L278.9,368.3L279.4,366.8M280.0,364.8L280.2,364.3L280.6,362.8M281.2,360.8L281.4,360.1L281.8,358.6M282.4,356.6L282.7,355.7L283.1,354.2M283.6,352.1L283.9,351.1L284.3,349.6M284.9,347.6L285.1,346.7L285.6,345.1M286.1,343.1L286.4,342.3L286.8,340.8M287.4,338.8L287.6,338.1L288.1,336.6M288.8,334.6L288.8,334.4L289.5,332.9M290.1,331.5L290.8,330.1M291.3,328.9L291.9,327.5M292.5,326.1L293.2,324.6M293.8,323.2L294.6,321.8M295.0,321.1L296.1,320.0M296.2,319.8L297.5,319.2L298.5,320.4M298.7,320.7L299.4,322.2M300.0,323.6L300.6,325.0M301.2,326.1L301.9,327.5M302.4,328.6L303.2,330.0M303.7,330.8L304.4,332.2M304.9,333.0L305.7,334.4M306.1,335.2L306.9,336.6M307.4,337.4L308.1,338.9M308.6,340.0L309.2,341.5M309.8,343.2L310.2,344.8M310.8,346.8L311.1,348.0L311.4,349.5M311.9,351.6L312.3,353.1M312.3,353.3L312.7,354.8M313.3,356.8L313.6,357.9L314.2,359.4M314.8,360.9L315.5,362.3M316.0,363.4L316.6,364.9M317.3,366.4L317.8,367.9M318.5,369.5L319.1,371.0M319.7,372.6L320.3,374.1M321.0,375.7L321.6,377.1M322.2,378.4L323.0,379.8M323.4,380.5L324.3,381.8M324.7,382.3L325.7,383.5M325.9,383.8L327.1,384.7L328.4,385.4L329.6,386.0L330.9,386.5L332.1,386.9L333.3,387.1L334.6,387.4L335.8,387.6L337.0,387.7L338.3,387.9L339.5,387.9L340.7,387.9L342.0,387.9L343.2,387.9L344.5,387.9L345.7,387.9L346.9,387.9L348.2,387.9L349.4,387.9L350.6,387.9L351.9,387.9L353.1,387.9L354.3,387.9L355.6,387.9L356.8,387.9L358.0,387.9L359.3,387.9L360.5,387.9L361.8,387.9L363.0,387.9L364.2,387.9L365.5,387.9L366.7,387.9L367.9,387.9L369.2,387.9L369.8,387.9" fill="none" stroke="#ff00ff" stroke-width="1.9" stroke-linejoin="round"/>
<g stroke="#000" stroke-width="1.1" fill="none" stroke-linecap="butt">
<path d="M197.35,249.47 V399.50 H398.15"/>
<path d="M197.35,387.90 h-3.0"/>
<path d="M197.35,364.92 h-3.0"/>
<path d="M197.35,341.94 h-3.0"/>
<path d="M197.35,318.96 h-3.0"/>
<path d="M197.35,295.98 h-3.0"/>
<path d="M197.35,273.00 h-3.0"/>
<path d="M197.35,250.02 h-3.0"/>
<path d="M197.35,399.39 h-1.8"/>
<path d="M197.35,376.41 h-1.8"/>
<path d="M197.35,353.43 h-1.8"/>
<path d="M197.35,330.45 h-1.8"/>
<path d="M197.35,307.47 h-1.8"/>
<path d="M197.35,284.49 h-1.8"/>
<path d="M197.35,261.51 h-1.8"/>
<path d="M212.20,399.50 v3.0"/>
<path d="M243.10,399.50 v3.0"/>
<path d="M274.00,399.50 v3.0"/>
<path d="M304.90,399.50 v3.0"/>
<path d="M335.80,399.50 v3.0"/>
<path d="M366.70,399.50 v3.0"/>
<path d="M397.60,399.50 v3.0"/>
<path d="M227.65,399.50 v1.8"/>
<path d="M258.55,399.50 v1.8"/>
<path d="M289.45,399.50 v1.8"/>
<path d="M320.35,399.50 v1.8"/>
<path d="M351.25,399.50 v1.8"/>
<path d="M382.15,399.50 v1.8"/>
</g>
<text x="192.85" y="392.09" font-size="11.7" text-anchor="end">0</text>
<text x="192.85" y="369.11" font-size="11.7" text-anchor="end">50000</text>
<text x="192.85" y="346.13" font-size="11.7" text-anchor="end">100000</text>
<text x="192.85" y="323.15" font-size="11.7" text-anchor="end">150000</text>
<text x="192.85" y="300.17" font-size="11.7" text-anchor="end">200000</text>
<text x="192.85" y="277.19" font-size="11.7" text-anchor="end">250000</text>
<text x="192.85" y="254.21" font-size="11.7" text-anchor="end">300000</text>
<text x="212.50" y="413.10" font-size="11.35" text-anchor="middle">0</text>
<text x="243.40" y="413.10" font-size="11.35" text-anchor="middle">50</text>
<text x="274.30" y="413.10" font-size="11.35" text-anchor="middle">100</text>
<text x="305.20" y="413.10" font-size="11.35" text-anchor="middle">150</text>
<text x="336.10" y="413.10" font-size="11.35" text-anchor="middle">200</text>
<text x="367.00" y="413.10" font-size="11.35" text-anchor="middle">250</text>
<text x="397.90" y="413.10" font-size="11.35" text-anchor="middle">300</text>
<text x="304.50" y="427.00" font-size="11.7" text-anchor="middle">Gray Level</text>
<text transform="translate(140.50,316.40) rotate(-90)" font-size="11.75" text-anchor="middle">Number of pixels</text>
<path d="M198.80,253.50 H221.10" stroke="#000000" stroke-width="1.6" fill="none"/>
<text x="223.40" y="256.80" font-size="9.2">0day</text>
<text x="253.60" y="256.80" font-size="9.2">Std:13.57</text>
<path d="M198.80,265.00 H221.10" stroke="#ff0000" stroke-width="1.9000000000000001" fill="none" stroke-dasharray="7.1 6"/>
<text x="223.40" y="268.30" font-size="9.2">14days</text>
<text x="258.20" y="268.30" font-size="9.2">Std:14.38</text>
<path d="M198.60,276.40h2.6M206.75,276.40h2.6M214.90,276.40h2.6" stroke="#0000ff" stroke-width="1.9000000000000001" fill="none"/>
<text x="223.40" y="279.70" font-size="9.2">28days</text>
<text x="258.20" y="279.70" font-size="9.2">Std:14.92</text>
<path d="M199.35,287.80h1.25M201.59,287.80h1.25M203.83,287.80h1.25M206.07,287.80h1.25M208.31,287.80h1.25M210.55,287.80h1.25M212.79,287.80h1.25M215.03,287.80h1.25M217.27,287.80h1.25" stroke="#ff00ff" stroke-width="1.8" fill="none"/>
<text x="223.40" y="291.10" font-size="9.2">56days</text>
<text x="258.20" y="291.10" font-size="9.2">Std:15.13</text>
</g>
<text x="278.90" y="450.50" font-family='"Liberation Serif", "Times New Roman", serif' font-size="12.3" text-anchor="middle" fill="#000">(<tspan font-weight="bold">c</tspan>)</text>
</svg>
</body>
</html>
